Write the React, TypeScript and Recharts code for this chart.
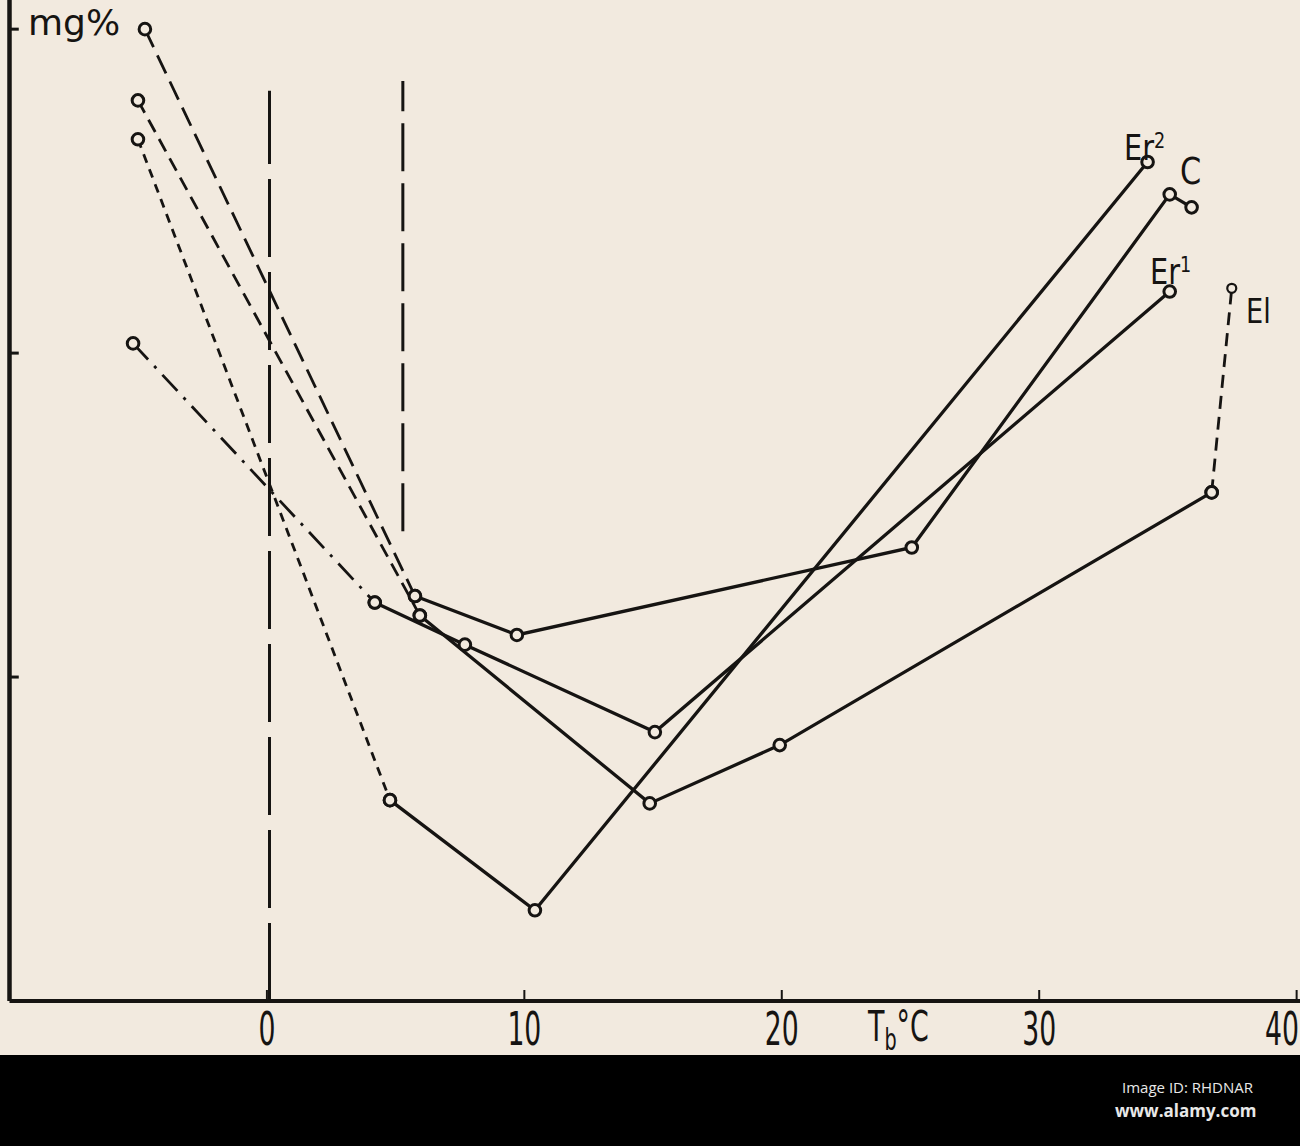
import React from "react";
import {
  LineChart,
  Line,
  XAxis,
  YAxis,
  ReferenceLine,
} from "recharts";

const BG = "#f2eadf";
const INK = "#161412";

// x: body temperature Tb (°C), y: concentration (mg%, tick units)
const C_X = [-4.74, 5.75, 9.71, 25.05, 35.07, 35.92];
const C_Y = [3.0, 1.25, 1.13, 1.4, 2.49, 2.45];
const EL_X = [-5.01, 5.94, 14.87, 19.92, 36.7, 37.48];
const EL_Y = [2.78, 1.19, 0.61, 0.79, 1.57, 2.2];
const ER1_X = [-5.2, 4.19, 7.69, 15.07, 35.07];
const ER1_Y = [2.03, 1.23, 1.1, 0.83, 2.19];
const ER2_X = [-5.01, 4.78, 10.41, 34.21];
const ER2_Y = [2.66, 0.62, 0.28, 2.59];

const X_TICKS = [0, 10, 20, 30, 40];
const Y_TICKS = [1, 2, 3];
const X_MIN = -10;
const Y_MAX = 3.09;

// vertical marker lines: x, y from, y to
const VLINES = [
  { x: 0.1, y1: 0, y2: 2.81, dash: "78 15" },
  { x: 5.28, y1: 1.45, y2: 2.84, dash: "48 12" },
];

const pts = (xs: number[], ys: number[], from: number, to: number) =>
  xs.slice(from, to + 1).map((x, i) => ({ x, y: ys[from + i] }));

const Dot = (props: any) => {
  const { cx, cy, index, small } = props;
  if (cx == null || cy == null) return <g key={index} />;
  return (
    <circle
      key={index}
      cx={cx}
      cy={cy}
      r={small ? 4.5 : 5.8}
      fill={BG}
      stroke={INK}
      strokeWidth={small ? 2.2 : 3}
    />
  );
};

const segments = [
  { id: "c0", data: pts(C_X, C_Y, 0, 1), dash: "20 9" },
  { id: "el0", data: pts(EL_X, EL_Y, 0, 1), dash: "14 8" },
  { id: "er10", data: pts(ER1_X, ER1_Y, 0, 1), dash: "22 9 3 9" },
  { id: "er20", data: pts(ER2_X, ER2_Y, 0, 1), dash: "9 7" },
  { id: "el2", data: pts(EL_X, EL_Y, 4, 5), dash: "13 8", smallLast: true },
  { id: "c1", data: pts(C_X, C_Y, 1, 5) },
  { id: "el1", data: pts(EL_X, EL_Y, 1, 4) },
  { id: "er11", data: pts(ER1_X, ER1_Y, 1, 4) },
  { id: "er21", data: pts(ER2_X, ER2_Y, 1, 3) },
];

const XTick = (props: any) => {
  const { x, y, payload } = props;
  // last label sits on the page edge: keep it inside
  const last = payload.value === X_TICKS[X_TICKS.length - 1];
  const tx = last ? Math.min(x + 10, 1299) : x;
  return (
    <g>
      <line x1={x} x2={x} y1={y} y2={y - 11} stroke={INK} strokeWidth={2} />
      <text
        transform={`translate(${tx},${y + 44}) scale(0.58,1)`}
        textAnchor={last ? "end" : "middle"}
        fontSize={46}
        fontFamily="DejaVu Sans, sans-serif"
        fill={INK}
      >
        {payload.value}
      </text>
    </g>
  );
};

const label = (left: number, top: number, size = 36): React.CSSProperties => ({
  position: "absolute",
  left,
  top,
  fontSize: size,
  lineHeight: 1,
  color: INK,
  fontFamily: "DejaVu Sans, sans-serif",
  transform: "scale(0.8,1)",
  transformOrigin: "left top",
  whiteSpace: "nowrap",
});

export default function App() {
  return (
    <div
      style={{
        position: "absolute",
        left: 0,
        top: 0,
        width: 1300,
        height: 1146,
        overflow: "hidden",
        background: BG,
      }}
    >
      <LineChart
        width={1320}
        height={1146}
        margin={{ top: 0, right: 10.5, left: 9.5, bottom: 0 }}
      >
        <XAxis
          type="number"
          dataKey="x"
          domain={[X_MIN, 40.5]}
          ticks={X_TICKS}
          allowDataOverflow
          height={145}
          tickSize={0}
          tickMargin={0}
          tickLine={false}
          axisLine={{ stroke: INK, strokeWidth: 4 }}
          tick={<XTick />}
        />
        <YAxis type="number" dataKey="y" domain={[0, Y_MAX]} hide />
        <ReferenceLine
          segment={[
            { x: X_MIN, y: 0 },
            { x: X_MIN, y: Y_MAX },
          ]}
          stroke={INK}
          strokeWidth={4.5}
          ifOverflow="visible"
        />
        {Y_TICKS.map((t) => (
          <ReferenceLine
            key={"yt" + t}
            segment={[
              { x: X_MIN, y: t },
              { x: X_MIN + 0.36, y: t },
            ]}
            stroke={INK}
            strokeWidth={3}
            ifOverflow="visible"
          />
        ))}
        {VLINES.map((v, i) => (
          <ReferenceLine
            key={"v" + i}
            segment={[
              { x: v.x, y: v.y1 },
              { x: v.x, y: v.y2 },
            ]}
            stroke={INK}
            strokeWidth={3}
            strokeDasharray={v.dash}
            ifOverflow="visible"
          />
        ))}
        {segments.map((s) => (
          <Line
            key={s.id}
            data={s.data}
            dataKey="y"
            type="linear"
            stroke={INK}
            strokeWidth={s.dash ? 2.8 : 3.3}
            strokeDasharray={s.dash}
            dot={(p: any) => (
              <Dot {...p} small={s.smallLast && p.index === s.data.length - 1} />
            )}
            activeDot={false}
            isAnimationActive={false}
          />
        ))}
      </LineChart>

      <div style={{ ...label(28, 5, 36), transform: "none" }}>mg%</div>
      <div style={label(1124, 130)}>
        Er<sup style={{ fontSize: 22, verticalAlign: "12px" }}>2</sup>
      </div>
      <div style={label(1180, 152, 38)}>C</div>
      <div style={label(1150, 254)}>
        Er<sup style={{ fontSize: 22, verticalAlign: "12px" }}>1</sup>
      </div>
      <div style={label(1246, 294, 34)}>El</div>
      <div
        style={{
          position: "absolute",
          left: 868,
          top: 1006,
          fontSize: 42,
          lineHeight: 1,
          color: INK,
          fontFamily: "DejaVu Sans, sans-serif",
          transform: "scale(0.64,1)",
          transformOrigin: "left top",
          whiteSpace: "nowrap",
        }}
      >
        T<sub style={{ fontSize: 30, lineHeight: 0 }}>b</sub>°C
      </div>

      <div
        style={{
          position: "absolute",
          left: 0,
          top: 1055,
          width: 1300,
          height: 91,
          background: "#000",
          color: "#e8e8e8",
          fontFamily: "Open Sans, sans-serif",
        }}
      >
        <div style={{ position: "absolute", left: 1122, top: 22, fontSize: 15 }}>
          Image ID: RHDNAR
        </div>
        <div
          style={{
            position: "absolute",
            left: 1115,
            top: 44,
            fontSize: 17,
            fontWeight: 700,
          }}
        >
          www.alamy.com
        </div>
      </div>
    </div>
  );
}
